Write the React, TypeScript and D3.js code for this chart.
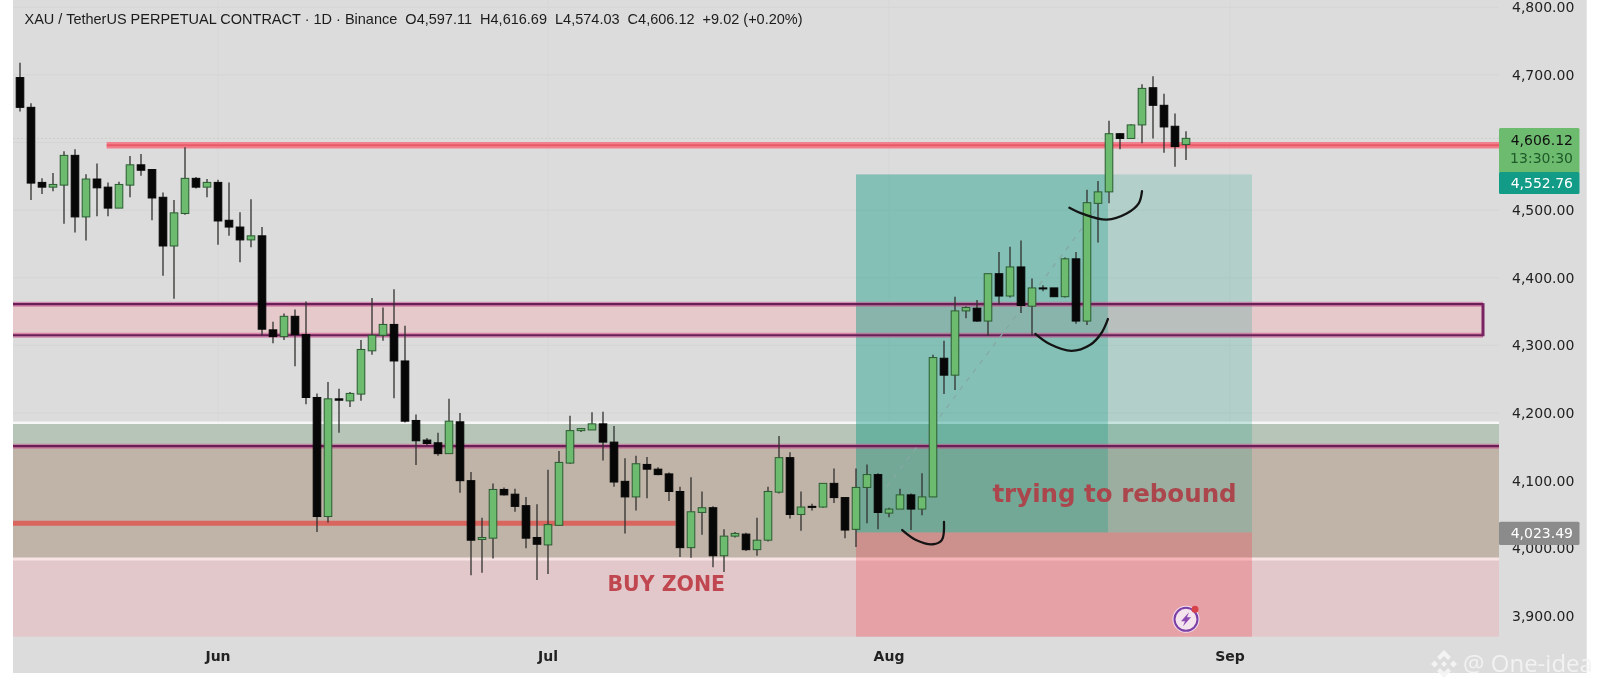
import React, { useEffect, useRef } from 'react';
import * as d3 from 'd3';

// candles, one per day
const opens = [4696,4652,4541,4534,4537,4581,4490,4546,4534,4503,4537,4567,4560,4519,4447,4495,4547,4534,4541,4485,4475,4456,4462,4323,4313,4343,4316,4223,4047,4221,4218,4228,4292,4315,4331,4277,4189,4160,4156,4140,4187,4100,4013,4015,4087,4080,4063,4016,4005,4034,4126,4174,4175,4184,4157,4099,4076,4124,4117,4110,4084,4001,4053,4060,3989,4018,4021,3998,4012,4083,4134,4050,4062,4061,4096,4075,4028,4090,4109,4052,4058,4079,4058,4076,4281,4256,4351,4355,4336,4406,4373,4416,4358,4385,4385,4372,4428,4336,4510,4527,4613,4606,4626,4681,4655,4624,4597.11];
const closes = [4652,4540,4534,4538,4581,4490,4546,4533,4503,4538,4567,4559,4518,4447,4496,4547,4534,4541,4484,4475,4456,4462,4324,4313,4343,4316,4223,4047,4221,4219,4229,4294,4315,4331,4277,4188,4159,4155,4140,4188,4100,4012,4016,4087,4079,4062,4015,4006,4035,4127,4174,4177,4184,4157,4098,4076,4125,4117,4109,4084,4001,4054,4060,3989,4018,4022,3998,4012,4084,4134,4050,4061,4061,4096,4075,4027,4090,4109,4053,4058,4079,4058,4076,4282,4256,4351,4356,4336,4406,4373,4416,4359,4385,4384,4372,4428,4336,4511,4527,4613,4606,4626,4680,4655,4623,4594,4606.12];
const highs = [4718,4658,4547,4555,4587,4590,4553,4569,4541,4542,4580,4583,4561,4526,4515,4593,4549,4546,4545,4541,4497,4516,4475,4335,4347,4353,4365,4229,4246,4236,4231,4308,4370,4356,4383,4329,4198,4163,4171,4221,4200,4113,4045,4096,4090,4088,4076,4065,4116,4144,4196,4178,4201,4202,4181,4133,4137,4135,4120,4112,4091,4105,4084,4062,4028,4024,4023,4045,4091,4166,4142,4084,4066,4096,4118,4075,4118,4124,4111,4060,4088,4081,4111,4286,4307,4372,4358,4367,4406,4438,4446,4455,4399,4389,4385,4430,4438,4530,4543,4632,4614,4627,4686,4698,4672,4643,4616.69];
const lows = [4646,4515,4524,4528,4480,4467,4455,4491,4491,4503,4519,4551,4485,4403,4369,4493,4532,4519,4449,4462,4423,4445,4315,4303,4308,4269,4213,4024,4038,4171,4209,4218,4286,4307,4222,4186,4123,4152,4137,4140,4082,3960,3964,3985,4078,4054,4000,3953,3962,4034,4125,4172,4175,4130,4091,4022,4056,4074,4108,4070,3987,3986,4020,3972,3965,4016,3996,3989,4010,4081,4044,4026,4056,4060,4067,4015,4002,4037,4028,4046,4058,4027,4049,4076,4228,4234,4340,4335,4314,4361,4371,4348,4315,4380,4372,4371,4332,4330,4452,4510,4590,4605,4599,4606,4585,4564,4574.03];

const priceTicks = [3900, 4000, 4100, 4200, 4300, 4400, 4500, 4600, 4700, 4800];
const monthLabels = ['Jun', 'Jul', 'Aug', 'Sep'];
const monthIndex = [18, 48, 79, 110];

const lastPrice = 4606.12;
const countdown = '13:30:30';
const targetPrice = 4552.76;
const entryPrice = 4023.49;
const title = 'XAU / TetherUS PERPETUAL CONTRACT · 1D · Binance  O4,597.11  H4,616.69  L4,574.03  C4,606.12  +9.02 (+0.20%)';

// drawn levels, in price
const resistance = 4596;
const bandTop = 4361;
const bandBottom = 4315;
const greenTop = 4185.7;
const tanTop = 4151;
const support = 4037;
const buyTop = 3984;

// hand drawn arcs, [candle index, price]
const arcs: [number, number][][] = [
  [[80.2, 4027], [81.5, 4012], [83, 4006], [83.8, 4012], [84, 4039]],
  [[92.3, 4317], [93.6, 4302], [95.6, 4292], [97.3, 4301], [98.3, 4318], [98.9, 4339]],
  [[95.4, 4503.6], [96.7, 4494], [98.8, 4486], [100.6, 4495], [101.7, 4510], [102, 4528]],
];
const tradeLine: [number, number][] = [[78.8, 4091], [97.8, 4500]];

const width = 1600;
const height = 689;
const paneLeft = 13;
const paneRight = 1499;
const paneBottom = 636.7;
const outerRight = 1586.7;
const outerBottom = 673;

const App: React.FC = () => {
  const svgRef = useRef<SVGSVGElement | null>(null);

  useEffect(() => {
    const svg = d3.select(svgRef.current);
    svg.selectAll('*').remove();

    const x = d3.scaleLinear().domain([0, 106]).range([20, 1186]);
    const y = d3.scaleLinear().domain([3869.3, 4810.7]).range([paneBottom, 0]);
    const money = d3.format(',.2f');
    const sans = '"DejaVu Sans", sans-serif';

    svg.append('rect').attr('x', paneLeft).attr('y', 0)
      .attr('width', outerRight - paneLeft).attr('height', outerBottom).attr('fill', '#dcdcdc');

    // grid
    svg.append('g').selectAll('line').data(priceTicks).join('line')
      .attr('x1', paneLeft).attr('x2', paneRight)
      .attr('y1', d => y(d)).attr('y2', d => y(d))
      .attr('stroke', '#d5d5d5').attr('stroke-width', 1);
    svg.append('g').selectAll('line').data(monthIndex).join('line')
      .attr('x1', d => x(d)).attr('x2', d => x(d))
      .attr('y1', 0).attr('y2', paneBottom)
      .attr('stroke', '#d7d7d7').attr('stroke-width', 1);

    // zones
    const zone = (top: number, bottom: number, fill: string) =>
      svg.append('rect').attr('x', paneLeft).attr('width', paneRight - paneLeft)
        .attr('y', y(top)).attr('height', y(bottom) - y(top)).attr('fill', fill);
    zone(greenTop, tanTop, '#b6c5b7');
    zone(tanTop, buyTop, '#c0b3a8');
    zone(buyTop, y.domain()[0], '#e3c8cb');
    zone(bandTop, bandBottom, '#e5c9cb').attr('width', x(133) - paneLeft);

    const hline = (price: number, x1: number, x2: number, color: string, w: number) =>
      svg.append('line').attr('x1', x1).attr('x2', x2)
        .attr('y1', y(price)).attr('y2', y(price))
        .attr('stroke', color).attr('stroke-width', w);

    hline(greenTop, paneLeft, paneRight, '#f6f6f6', 2.5);
    hline(buyTop, paneLeft, paneRight, '#f8e4e4', 3);
    hline(support, paneLeft, x(59.6), '#d9655f', 5);

    // trade box
    const box = (i1: number, i2: number, top: number, bottom: number, fill: string) =>
      svg.append('rect').attr('x', x(i1)).attr('width', x(i2) - x(i1))
        .attr('y', y(top)).attr('height', y(bottom) - y(top)).attr('fill', fill);
    box(76, 112, targetPrice, entryPrice, 'rgba(8,153,129,0.2)');
    box(76, 98.9, targetPrice, entryPrice, 'rgba(8,153,129,0.27)');
    box(76, 112, entryPrice, y.domain()[0], 'rgba(242,54,69,0.27)');

    // purple band and line, over the box so they dim in it
    const purple = (price: number, x2: number) => {
      hline(price, paneLeft, x2, 'rgba(206,80,140,0.55)', 5);
      hline(price, paneLeft, x2, '#6a1f57', 2.2);
    };
    purple(bandTop, x(133));
    purple(bandBottom, x(133));
    purple(tanTop, paneRight);
    svg.append('line').attr('x1', x(133)).attr('x2', x(133))
      .attr('y1', y(bandTop) - 1).attr('y2', y(bandBottom) + 1)
      .attr('stroke', '#7a2362').attr('stroke-width', 3);

    hline(lastPrice, paneLeft, paneRight, '#c9cfc9', 1).attr('stroke-dasharray', '2 2');
    hline(resistance, x(7.88), paneRight, '#f2808c', 6.5);
    hline(resistance, x(7.88), paneRight, '#e95a68', 2);

    // trade diagonal
    svg.append('line')
      .attr('x1', x(tradeLine[0][0])).attr('y1', y(tradeLine[0][1]))
      .attr('x2', x(tradeLine[1][0])).attr('y2', y(tradeLine[1][1]))
      .attr('stroke', '#86a8a2').attr('stroke-width', 1.2).attr('stroke-dasharray', '5 6');

    // candles
    const candles = d3.range(opens.length);
    const isUp = (i: number) => closes[i] >= opens[i];
    const bodyW = 7.6;
    svg.append('g').selectAll('line').data(candles).join('line')
      .attr('x1', i => x(i)).attr('x2', i => x(i))
      .attr('y1', i => y(highs[i])).attr('y2', i => y(lows[i]))
      .attr('stroke', '#30302e').attr('stroke-width', 1.3);
    svg.append('g').selectAll('rect').data(candles).join('rect')
      .attr('x', i => x(i) - bodyW / 2).attr('width', bodyW)
      .attr('y', i => y(Math.max(opens[i], closes[i])))
      .attr('height', i => Math.max(1, Math.abs(y(opens[i]) - y(closes[i]))))
      .attr('fill', i => (isUp(i) ? '#6cbb6e' : '#070707'))
      .attr('stroke', i => (isUp(i) ? '#2c5c32' : '#070707')).attr('stroke-width', 1);

    // arcs
    const arcLine = d3.line<[number, number]>()
      .x(d => x(d[0])).y(d => y(d[1])).curve(d3.curveCatmullRom);
    svg.append('g').selectAll('path').data(arcs).join('path')
      .attr('d', d => arcLine(d))
      .attr('fill', 'none').attr('stroke', '#141414').attr('stroke-width', 2.3).attr('stroke-linecap', 'round');

    // notes
    svg.append('text').attr('x', x(88.4)).attr('y', 502).text('trying to rebound')
      .attr('font-family', sans).attr('font-weight', 700).attr('font-size', 24.5)
      .attr('fill', '#ab464c');
    svg.append('text').attr('x', x(53.4)).attr('y', 591).text('BUY ZONE')
      .attr('font-family', sans).attr('font-weight', 700).attr('font-size', 20.5)
      .attr('fill', '#c0474f');

    // title
    svg.append('text').attr('x', 24.5).attr('y', 24).text(title)
      .attr('xml:space', 'preserve').style('white-space', 'pre')
      .attr('font-family', '"Liberation Sans", sans-serif').attr('font-size', 14.5)
      .attr('fill', '#1c1c1c');

    // price axis
    const axis = d3.axisRight(y).tickValues(priceTicks).tickSize(0).tickPadding(0).tickFormat(d => money(d as number));
    const axisG = svg.append('g').attr('transform', 'translate(1512,0)').call(axis);
    axisG.select('.domain').remove();
    axisG.selectAll('text').attr('font-family', sans).attr('font-size', 14).attr('fill', '#222');

    // month axis
    svg.append('g').selectAll('text').data(monthIndex).join('text')
      .attr('x', d => x(d)).attr('y', 661).attr('text-anchor', 'middle')
      .text((_, i) => monthLabels[i])
      .attr('font-family', sans).attr('font-size', 14).attr('font-weight', 600).attr('fill', '#222');

    // price tags
    const tag = (top: number, bottom: number, fill: string) =>
      svg.append('rect').attr('x', paneRight).attr('y', top).attr('width', 80.5)
        .attr('height', bottom - top).attr('rx', 1.5).attr('fill', fill);
    const tagText = (py: number, s: string, fill: string) =>
      svg.append('text').attr('x', 1573).attr('y', py).attr('text-anchor', 'end').text(s)
        .attr('font-family', sans).attr('font-size', 14).attr('fill', fill);
    tag(128, 173, '#6cbb6e');
    tag(172, 194, '#129c88');
    tagText(144.5, money(lastPrice), '#111');
    tagText(163, countdown, '#1f5a2a');
    tagText(187.5, money(targetPrice), '#fff');
    tag(521.7, 545, '#8b8b8b');
    tagText(538, money(entryPrice), '#fff');

    // bolt badge
    const badge = svg.append('g').attr('transform', `translate(${x(106)},619.3)`);
    badge.append('circle').attr('r', 13.5).attr('fill', '#f4dff0');
    badge.append('circle').attr('r', 11.5).attr('fill', '#f3e4ee').attr('stroke', '#7b3fa5').attr('stroke-width', 2);
    badge.append('path').attr('d', 'M3,-7 L-5,2 L-1,2 L-3,7 L5,-2 L1,-2 Z').attr('fill', '#8a4ab0');
    badge.append('circle').attr('cx', 9).attr('cy', -10).attr('r', 3.5).attr('fill', '#d8434a');

    // watermark
    const mark = svg.append('g').attr('transform', 'translate(1444,664)')
      .attr('fill', '#f4f4f4').attr('opacity', 0.92);
    mark.append('path').attr('d', 'M0,-14 L7,-7 L4,-4 L0,-8 L-4,-4 L-7,-7 Z M0,14 L7,7 L4,4 L0,8 L-4,4 L-7,7 Z M-13,0 L-9.5,-3.5 L-6,0 L-9.5,3.5 Z M13,0 L9.5,-3.5 L6,0 L9.5,3.5 Z M0,-3 L3,0 L0,3 L-3,0 Z');
    svg.append('text').attr('x', 1463).attr('y', 672).text('@ One-idea')
      .attr('font-family', '"Open Sans", sans-serif').attr('font-size', 24)
      .attr('fill', '#f4f4f4').attr('opacity', 0.92);
  }, []);

  return (
    <svg
      ref={svgRef}
      width={width}
      height={height}
      style={{ position: 'fixed', left: 0, top: 0, background: '#fff', filter: 'blur(0.4px)' }}
    />
  );
};

export default App;
